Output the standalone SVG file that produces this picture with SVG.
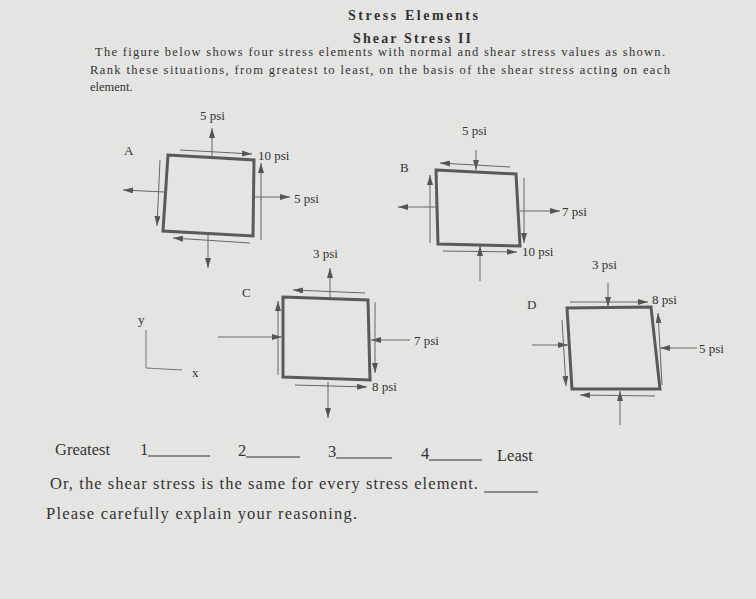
<svg xmlns="http://www.w3.org/2000/svg" width="756" height="599" viewBox="0 0 756 599">
<defs>
<marker id="ah" viewBox="0 0 10 6" refX="10" refY="3" markerWidth="10" markerHeight="6" markerUnits="userSpaceOnUse" orient="auto"><path d="M0,0L10,3L0,6z" fill="#555"/></marker>
<style>
.bx{fill:none;stroke:#5a5a5a;stroke-width:3}
.a{stroke:#666;stroke-width:1;fill:none;marker-end:url(#ah)}
.t{font-family:"Liberation Serif",serif;fill:#333}
.s{font-size:13px}
</style>
</defs>
<rect width="756" height="599" fill="#e4e4e2"/>
<text class="t" x="348" y="20" font-size="14" font-weight="bold" textLength="130">Stress Elements</text>
<text class="t" x="353" y="43" font-size="14" font-weight="bold" textLength="118">Shear Stress II</text>
<text class="t" x="95" y="56" font-size="12.5" textLength="570">The figure below shows four stress elements with normal and shear stress values as shown.</text>
<text class="t" x="90" y="74" font-size="12.5" textLength="580">Rank these situations, from greatest to least, on the basis of the shear stress acting on each</text>
<text class="t" x="90" y="91" font-size="12.5">element.</text>
<g id="A">
<polygon class="bx" points="168,155 254,160 253,236 163,231"/>
<text class="t s" x="200" y="120">5 psi</text><text class="t s" x="124" y="155">A</text>
<text class="t s" x="258" y="160">10 psi</text><text class="t s" x="294" y="203">5 psi</text>
<line class="a" x1="212" y1="158" x2="212" y2="128"/><line class="a" x1="180" y1="150" x2="252" y2="154"/>
<line class="a" x1="261" y1="240" x2="261" y2="163"/><line class="a" x1="255" y1="197" x2="290" y2="197"/>
<line class="a" x1="165" y1="192" x2="123" y2="190"/><line class="a" x1="160" y1="160" x2="157" y2="226"/>
<line class="a" x1="250" y1="243" x2="173" y2="238"/><line class="a" x1="208" y1="235" x2="208" y2="268"/>
</g>
<g id="B">
<polygon class="bx" points="436,170 516,174 520,246 438,244"/>
<text class="t s" x="462" y="135">5 psi</text><text class="t s" x="400" y="172">B</text>
<text class="t s" x="562" y="216">7 psi</text><text class="t s" x="522" y="256">10 psi</text>
<line class="a" x1="476" y1="150" x2="476" y2="170"/><line class="a" x1="510" y1="167" x2="440" y2="163"/>
<line class="a" x1="430" y1="243" x2="430" y2="175"/><line class="a" x1="436" y1="207" x2="398" y2="207"/>
<line class="a" x1="524" y1="178" x2="524" y2="243"/><line class="a" x1="520" y1="211" x2="560" y2="211"/>
<line class="a" x1="443" y1="251" x2="517" y2="252"/><line class="a" x1="480" y1="281" x2="480" y2="246"/>
</g>
<g id="C">
<polygon class="bx" points="283,297 368,300 370,380 283,377"/>
<text class="t s" x="313" y="258">3 psi</text><text class="t s" x="242" y="297">C</text>
<text class="t s" x="414" y="345">7 psi</text><text class="t s" x="372" y="391">8 psi</text>
<line class="a" x1="330" y1="298" x2="330" y2="268"/><line class="a" x1="365" y1="293" x2="293" y2="290"/>
<line class="a" x1="278" y1="375" x2="278" y2="301"/><line class="a" x1="218" y1="337" x2="282" y2="337"/>
<line class="a" x1="410" y1="340" x2="371" y2="340"/><line class="a" x1="375" y1="302" x2="375" y2="373"/>
<line class="a" x1="295" y1="385" x2="367" y2="387"/><line class="a" x1="328" y1="382" x2="328" y2="418"/>
</g>
<g id="D">
<polygon class="bx" points="567,308 651,307 660,389 572,389"/>
<text class="t s" x="592" y="269">3 psi</text><text class="t s" x="527" y="309">D</text>
<text class="t s" x="652" y="304">8 psi</text><text class="t s" x="699" y="353">5 psi</text>
<line class="a" x1="608" y1="283" x2="608" y2="307"/><line class="a" x1="570" y1="302" x2="648" y2="302"/>
<line class="a" x1="662" y1="385" x2="658" y2="313"/><line class="a" x1="697" y1="348" x2="660" y2="348"/>
<line class="a" x1="532" y1="345" x2="568" y2="345"/><line class="a" x1="562" y1="320" x2="566" y2="386"/>
<line class="a" x1="655" y1="396" x2="580" y2="395"/><line class="a" x1="620" y1="425" x2="620" y2="391"/>
</g>
<g id="axes">
<text class="t s" x="138" y="324">y</text><polyline points="146,330 146,368 182,370" fill="none" stroke="#777" stroke-width="1"/>
<text class="t s" x="192" y="377">x</text>
</g>
<g class="t" font-size="16.5">
<text x="55" y="455">Greatest</text><text x="140" y="455">1</text><line x1="148" y1="456" x2="210" y2="456" stroke="#333"/>
<text x="238" y="456">2</text><line x1="246" y1="457" x2="300" y2="457" stroke="#333"/>
<text x="328" y="457">3</text><line x1="336" y1="458" x2="392" y2="458" stroke="#333"/>
<text x="421" y="459">4</text><line x1="429" y1="460" x2="482" y2="460" stroke="#333"/>
<text x="497" y="461">Least</text>
<text x="50" y="489" textLength="428">Or, the shear stress is the same for every stress element.</text><line x1="484" y1="492" x2="538" y2="492" stroke="#333"/>
<text x="46" y="519" textLength="311">Please carefully explain your reasoning.</text>
</g>
</svg>
